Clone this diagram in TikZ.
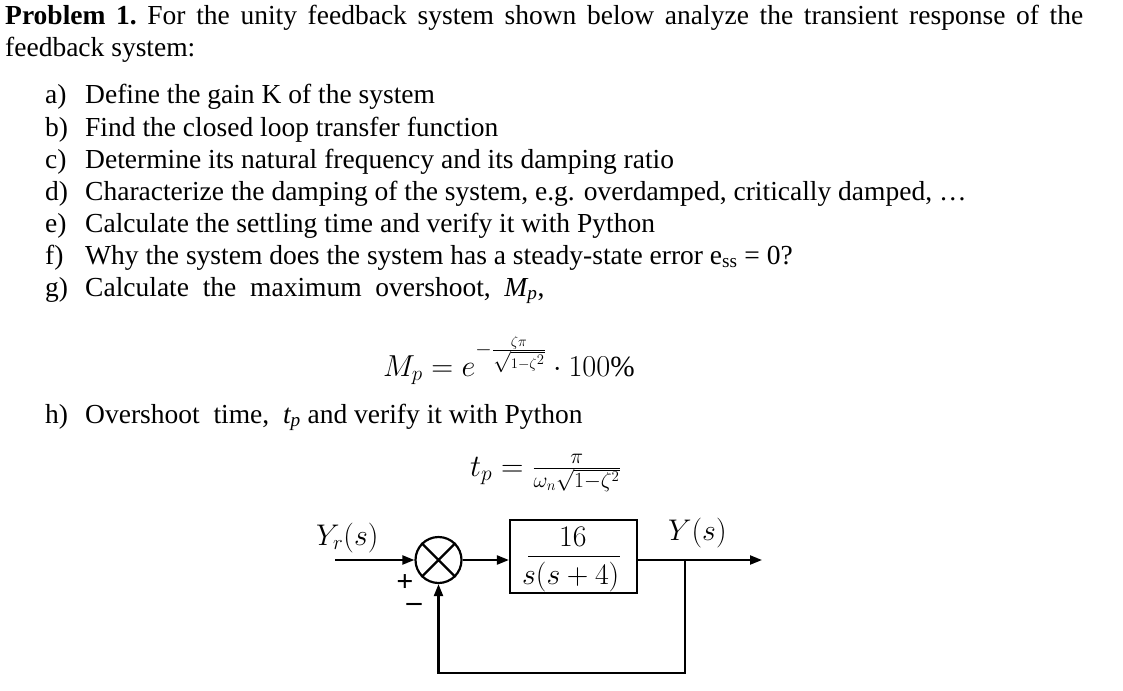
\documentclass[tikz,border=0pt]{standalone}
\usepackage{fontspec}
\usepackage{graphicx}
\setmainfont{Liberation Serif}
\usetikzlibrary{arrows.meta}
\begin{document}
\begin{tikzpicture}[x=1pt,y=-1pt,
  txt/.style={anchor=base west,inner sep=0,font=\fontsize{27.5}{32}\selectfont},
  mth/.style={anchor=base west,inner sep=0,font=\fontsize{24}{28}\selectfont},
  sig/.style={line width=2.2pt,-{Triangle[length=12pt,width=9pt]}},
  wire/.style={line width=2.2pt}]
\useasboundingbox (0,0) rectangle (1123,690);
\node[txt] (l1) at (5,25) {\makebox[1078pt][s]{\textbf{Problem 1.}\ For the unity feedback system shown below analyze the transient response of the}};
\node[txt] (l2) at (5,57) {feedback system:};
\node[txt] (ia) at (45,104) {a)};
\node[txt] (ta) at (85,104) {Define the gain K of the system};
\node[txt] (ib) at (45,136) {b)};
\node[txt] (tb) at (85,136) {Find the closed loop transfer function};
\node[txt] (ic) at (45,168) {c)};
\node[txt] (tc) at (85,168) {Determine its natural frequency and its damping ratio};
\node[txt] (id) at (45,200) {d)};
\node[txt] (td) at (85,200) {Characterize the damping of the system, e.g. overdamped, critically damped, \dots};
\node[txt] (ie) at (45,232) {e)};
\node[txt] (te) at (85,232) {Calculate the settling time and verify it with Python};
\node[txt] (if) at (45,264) {f)};
\node[txt] (tf) at (85,264) {Why the system does the system has a steady-state error e\textsubscript{ss} = 0?};
\node[txt] (ig) at (45,296) {g)};
\node[txt] (tg) at (85,296) {Calculate\ \ the\ \ maximum\ \ overshoot,\ \ \textit{M\textsubscript{p}},};
\node[mth] (mp) at (383,376) {\scalebox{1.22}{$M_p = e^{-\frac{\zeta\pi}{\sqrt{1-\zeta^2}}}\cdot 100\%$}};
\node[txt] (ih) at (45,423) {h)};
\node[txt] (th) at (85,423) {Overshoot\ \ time,\ \ \textit{t\textsubscript{p}} and verify it with Python};
\node[mth] (tp) at (470,476) {\scalebox{1.25}{$t_p = \frac{\pi}{\omega_n\sqrt{1-\zeta^2}}$}};
\coordinate (in) at (335,560);
\node[draw,circle,line width=2.2pt,minimum size=46pt,inner sep=0] (sum) at (438.5,560) {};
\draw[wire] (sum.north west) -- (sum.south east) (sum.north east) -- (sum.south west);
\node[draw,line width=2.2pt,minimum width=127pt,minimum height=73pt,inner sep=0] (G) at (573.5,556.5) {};
\node[mth] (num) at (559,546) {\scalebox{1.2}{$16$}};
\draw[line width=1pt] (528,556) -- (620,556);
\node[mth] (den) at (522,584) {\scalebox{1.2}{$s(s+4)$}};
\coordinate (br) at (685,560);
\coordinate (out) at (762,560);
\coordinate (bl) at (685,673);
\coordinate (bb) at (438.5,673);
\draw[sig] (in) -- (sum);
\draw[sig] (sum) -- (G.west|-sum);
\draw[sig] (G.east|-sum) -- (out);
\draw[sig] (br) -- (bl) -- (bb) -- (sum.south);
\node[mth] (yr) at (316,545) {\scalebox{1.2}{$Y_r(s)$}};
\node[mth] (ys) at (668,540) {\scalebox{1.2}{$Y(s)$}};
\node[font=\fontsize{30}{30}\selectfont\bfseries,inner sep=0] (plus) at (405,583) {+};
\node[font=\fontsize{30}{30}\selectfont\bfseries,inner sep=0] (minus) at (414,607) {--};
\end{tikzpicture}
\end{document}
